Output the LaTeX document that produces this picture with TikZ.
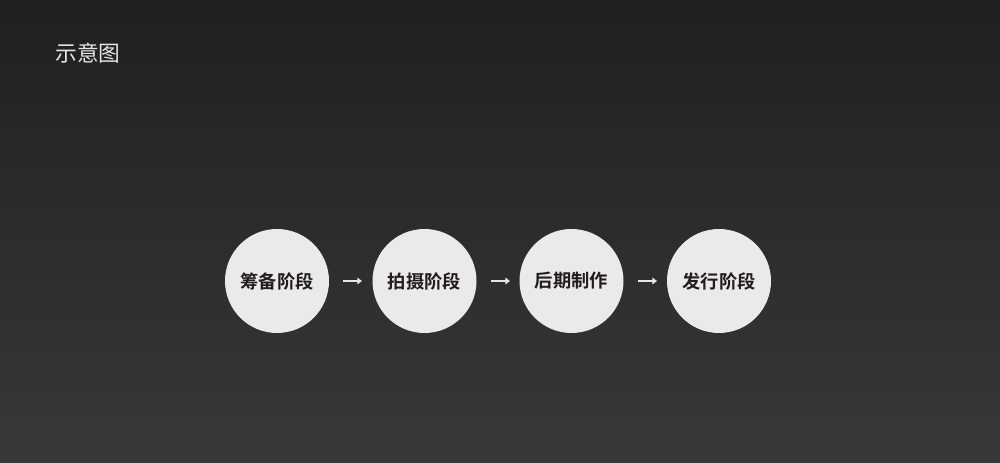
\documentclass[tikz,border=0pt]{standalone}
\usepackage{fontspec}
\newfontfamily\cjk{Noto Sans CJK SC}
\newfontfamily\cjkb{Noto Sans CJK SC Bold}
\usetikzlibrary{arrows.meta}
\definecolor{bgtop}{HTML}{202020}
\definecolor{bgbot}{HTML}{383838}
\definecolor{circfill}{HTML}{EBEAEA}
\definecolor{circtext}{HTML}{221C1E}
\definecolor{titlecol}{HTML}{E6E6E6}
\tikzset{
  stage/.style={circle, fill=circfill, minimum size=104*0.75pt, inner sep=0pt,
    font=\cjkb\fontsize{13.7pt}{15pt}\selectfont, text=circtext},
  flowarrow/.style={draw=titlecol, line width=1.2pt, -{Triangle[length=3.5pt,width=5pt]}}
}
\begin{document}
\begin{tikzpicture}[x=0.75pt,y=-0.75pt]
\shade[top color=bgtop, bottom color=bgbot] (0,0) rectangle (1000,463);
\useasboundingbox (0,0) rectangle (1000,463);
\node[anchor=west, text=titlecol, font=\cjk\fontsize{16.3pt}{18pt}\selectfont, inner sep=0pt] (title) at (55,53) {示意图};
\node[stage] (s1) at (277,281) {筹备阶段};
\node[stage] (s2) at (424.5,281) {拍摄阶段};
\node[stage] (s3) at (571.5,281) {后期制作};
\node[stage] (s4) at (719,281) {发行阶段};
\coordinate (a1s) at (343,281); \coordinate (a1e) at (362,281);
\coordinate (a2s) at (491,281); \coordinate (a2e) at (510,281);
\coordinate (a3s) at (638,281); \coordinate (a3e) at (657,281);
\draw[flowarrow] (a1s) -- (a1e);
\draw[flowarrow] (a2s) -- (a2e);
\draw[flowarrow] (a3s) -- (a3e);
\end{tikzpicture}
\end{document}
